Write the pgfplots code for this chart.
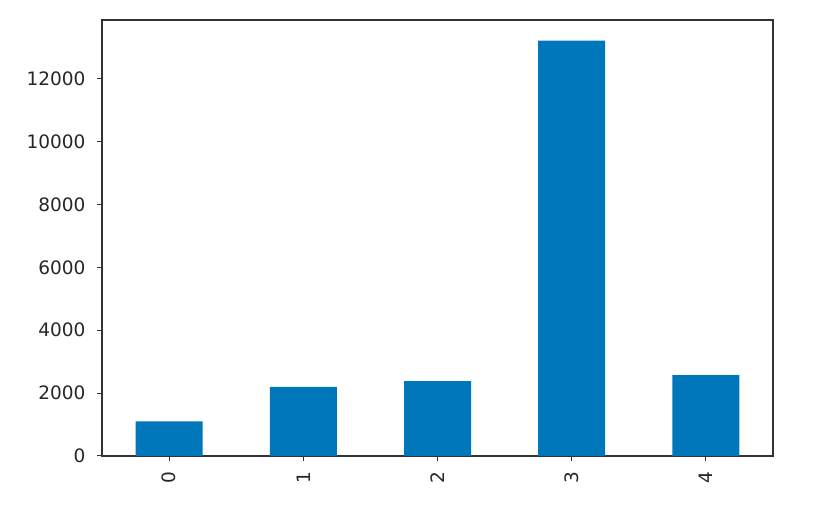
\documentclass[border=0pt]{standalone}
\usepackage{pgfplots}
\pgfplotsset{compat=1.18}
\usepackage{fontspec}
\setmainfont{DejaVu Sans}
\usetikzlibrary{calc}
\definecolor{barblue}{RGB}{0,119,187}
\begin{document}
\begin{tikzpicture}
\begin{axis}[
  name=ax,
  width=671pt, height=436pt, scale only axis,
  xmin=-0.5, xmax=4.5,
  ymin=0, ymax=13870,
  xtick={0,1,2,3,4},
  xticklabel style={rotate=90, anchor=east},
  ytick={0,2000,4000,6000,8000,10000,12000},
  scaled y ticks=false,
  yticklabel style={/pgf/number format/1000 sep={}},
  /pgf/number format/assume math mode=true,
  tick label style={font=\fontsize{18.5}{20}\selectfont, text=black!85},
  xticklabel shift=7pt,
  yticklabel shift=8pt,
  tick align=outside,
  tick pos=left,
  major tick length=5pt,
  every tick/.style={black!80, line width=1pt},
  axis line style={black!80, line width=1.1pt},
  ybar, bar width=67pt,
]
\addplot[fill=barblue, draw=none] coordinates {(0,1105) (1,2197) (2,2385) (3,13210) (4,2575)};
\end{axis}
\path ($(ax.south west)+(-102pt,-54pt)$) rectangle ($(ax.north east)+(63pt,20pt)$);
\end{tikzpicture}
\end{document}
